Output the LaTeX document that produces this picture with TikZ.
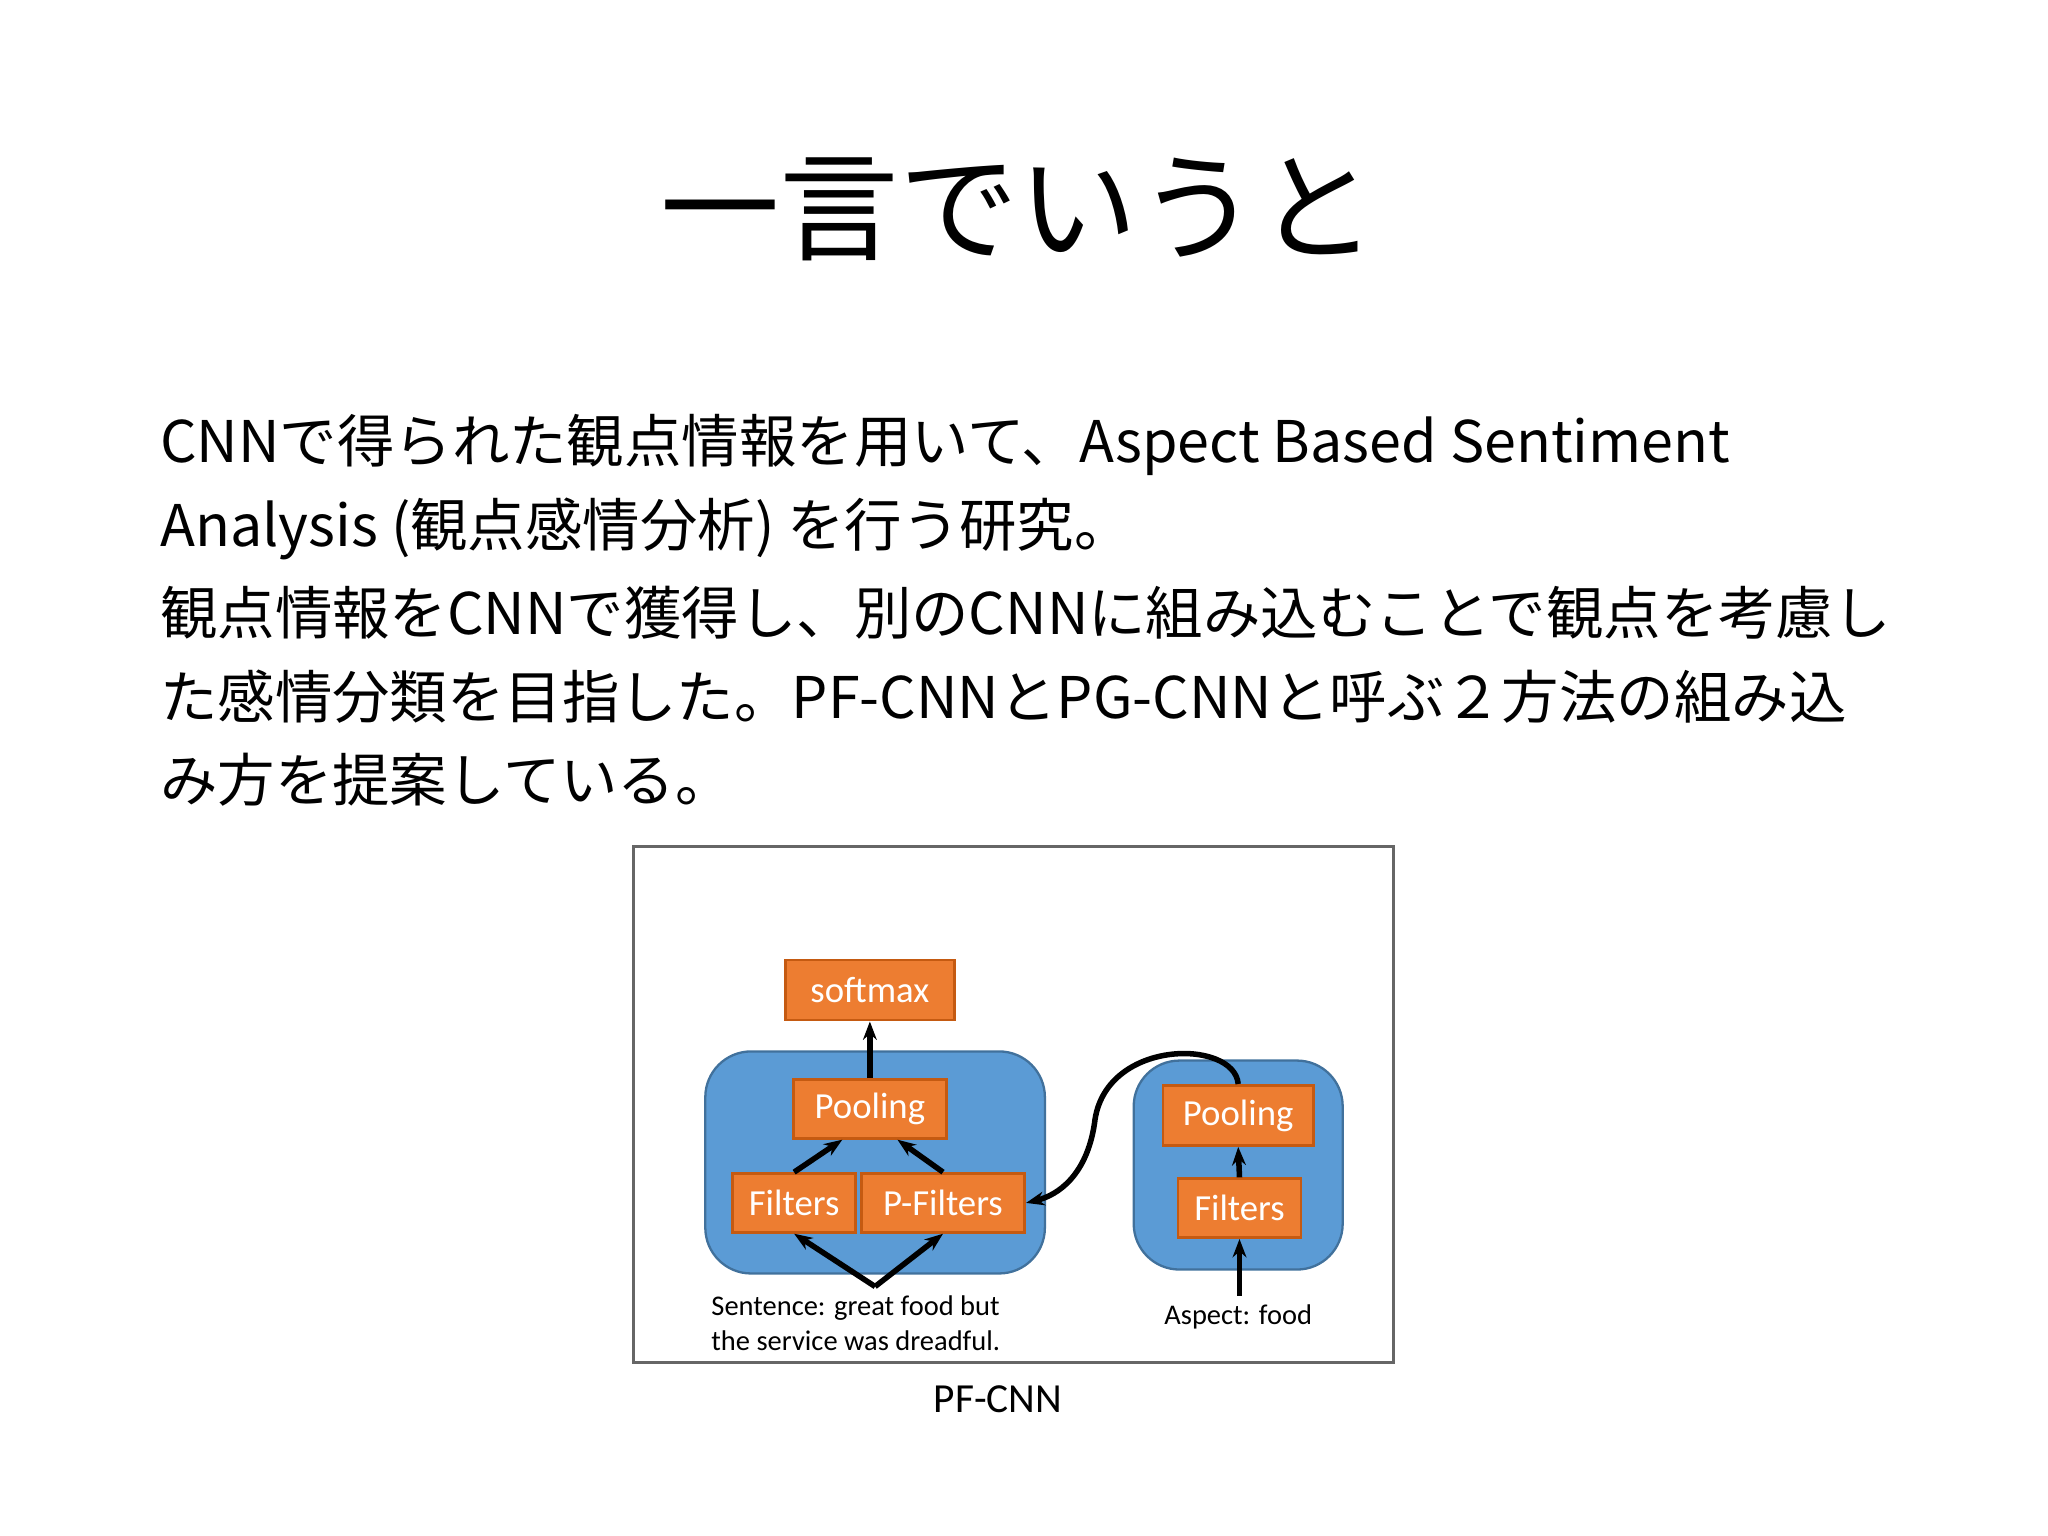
\documentclass[tikz,border=0pt]{standalone}
\usepackage{fontspec}
\setmainfont{Noto Sans CJK JP}
\newfontfamily\carl{Carlito}
\usetikzlibrary{arrows.meta}
\definecolor{ob}{HTML}{ED7D31}
\definecolor{obd}{HTML}{C55A11}
\definecolor{bl}{HTML}{5B9BD5}
\definecolor{bld}{HTML}{41719C}
\begin{document}
\begin{tikzpicture}[x=0.01cm,y=-0.01cm,
 body/.style={anchor=west,inner sep=0,font=\fontsize{12.5pt}{14pt}\selectfont},
 ob/.style={draw=obd,fill=ob,line width=0.6pt,text=white,inner sep=0,font=\carl\fontsize{8pt}{9pt}\selectfont},
 blu/.style={draw=bld,fill=bl,line width=0.5pt,rounded corners=0.35cm},
 ar/.style={-{Stealth[length=4pt]},line width=1.2pt}]
\useasboundingbox (0,0) rectangle (1568,1176);
\node[inner sep=0,font=\fontsize{26pt}{30pt}\selectfont] (title) at (780,160) {一言でいうと};
\node[body] (l1) at (122,341) {CNNで得られた観点情報を用いて、Aspect Based Sentiment};
\node[body] (l2) at (122,405) {Analysis (観点感情分析) を行う研究。};
\node[body] (l3) at (122,469) {観点情報をCNNで獲得し、別のCNNに組み込むことで観点を考慮し};
\node[body] (l4) at (122,533) {た感情分類を目指した。PF-CNNとPG-CNNと呼ぶ２方法の組み込};
\node[body] (l5) at (122,597) {み方を提案している。};
\draw[gray!80!black,line width=0.6pt] (485,648) rectangle (1067,1043);
\node[font=\carl\fontsize{9pt}{10pt}\selectfont] (cap) at (764,1071) {PF-CNN};
\draw[blu] (540,805) rectangle (800,975);
\draw[blu] (868,812) rectangle (1028,972);
\node[ob,minimum width=1.29cm,minimum height=0.46cm] (sm) at (666,758) {softmax};
\node[ob,minimum width=1.17cm,minimum height=0.45cm] (pl) at (666,849) {Pooling};
\node[ob,minimum width=0.94cm,minimum height=0.45cm] (fl) at (608,921) {Filters};
\node[ob,minimum width=1.25cm,minimum height=0.45cm] (pf) at (722,921) {P-Filters};
\node[ob,minimum width=1.15cm,minimum height=0.46cm] (pr) at (948,854) {Pooling};
\node[ob,minimum width=0.94cm,minimum height=0.45cm] (fr) at (949,925) {Filters};
\node[anchor=north west,align=left,inner sep=0,font=\carl\fontsize{6.2pt}{7.8pt}\selectfont] (sent) at (544,991) {Sentence: great food but\\the service was dreadful.};
\node[inner sep=0,font=\carl\fontsize{6.2pt}{7.5pt}\selectfont] (asp) at (948,1008) {Aspect: food};
\coordinate (m) at (670,985);
\coordinate (as) at (949,992);
\draw[ar] (pl.north) -- (sm.south);
\draw[ar] (fl.north) -- ([xshift=-6]pl.south);
\draw[ar] (pf.north) -- ([xshift=6]pl.south);
\draw[ar] (m) -- (fl.south);
\draw[ar] (m) -- (pf.south);
\draw[ar] (as) -- (fr.south);
\draw[ar] (fr.north) -- (pr.south);
\draw[ar] (pr.north) .. controls (945,795) and (845,795) .. (838,860) .. controls (832,900) and (810,915) .. (pf.east);
\end{tikzpicture}
\end{document}
